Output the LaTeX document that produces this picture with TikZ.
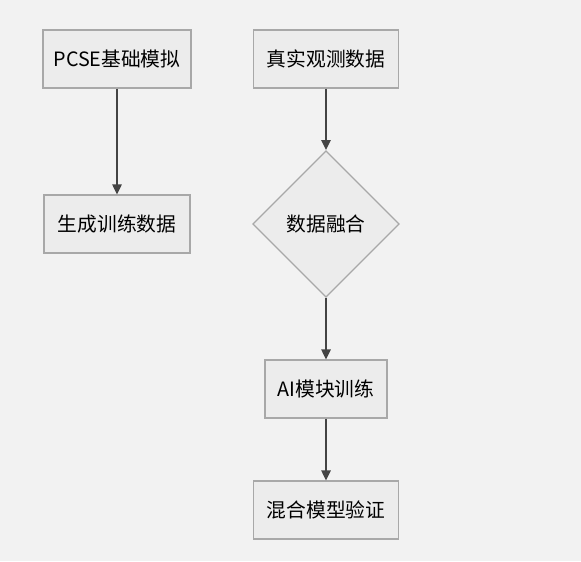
\documentclass[tikz,border=0pt]{standalone}
\usepackage{fontspec}
\setmainfont{Noto Sans CJK SC}
\usetikzlibrary{shapes.geometric,arrows.meta}
\definecolor{bg}{HTML}{F2F2F2}
\definecolor{boxfill}{HTML}{ECECEC}
\definecolor{boxline}{HTML}{A8A8A8}
\definecolor{arrowc}{HTML}{444444}
\begin{document}
\begin{tikzpicture}[x=0.75pt,y=-0.75pt,
  box/.style={draw=boxline,fill=boxfill,line width=0.9pt,minimum height=43.5pt,inner sep=0pt,font=\fontsize{14.8pt}{16pt}\selectfont},
  dec/.style={diamond,draw=boxline,fill=boxfill,line width=0.9pt,minimum width=110pt,minimum height=110pt,inner sep=0pt,font=\fontsize{14.8pt}{16pt}\selectfont},
  conn/.style={draw=arrowc,line width=1.3pt,-{Triangle[length=7.5pt,width=7pt]}}]
\fill[bg] (0,0) rectangle (581,561);
\useasboundingbox (0,0) rectangle (581,561);
\node[box,minimum width=111pt] (pcse) at (117,59) {PCSE基础模拟};
\node[box,minimum width=109.5pt] (gen) at (117,224) {生成训练数据};
\node[box,minimum width=109pt] (real) at (326,59) {真实观测数据};
\node[dec] (fuse) at (326,224) {数据融合};
\node[box,minimum width=91.5pt] (ai) at (326,389) {AI模块训练};
\node[box,minimum width=109pt] (mix) at (326,510) {混合模型验证};
\draw[conn] (pcse) -- (gen);
\draw[conn] (real) -- (fuse);
\draw[conn] (fuse) -- (ai);
\draw[conn] (ai) -- (mix);
\end{tikzpicture}
\end{document}
